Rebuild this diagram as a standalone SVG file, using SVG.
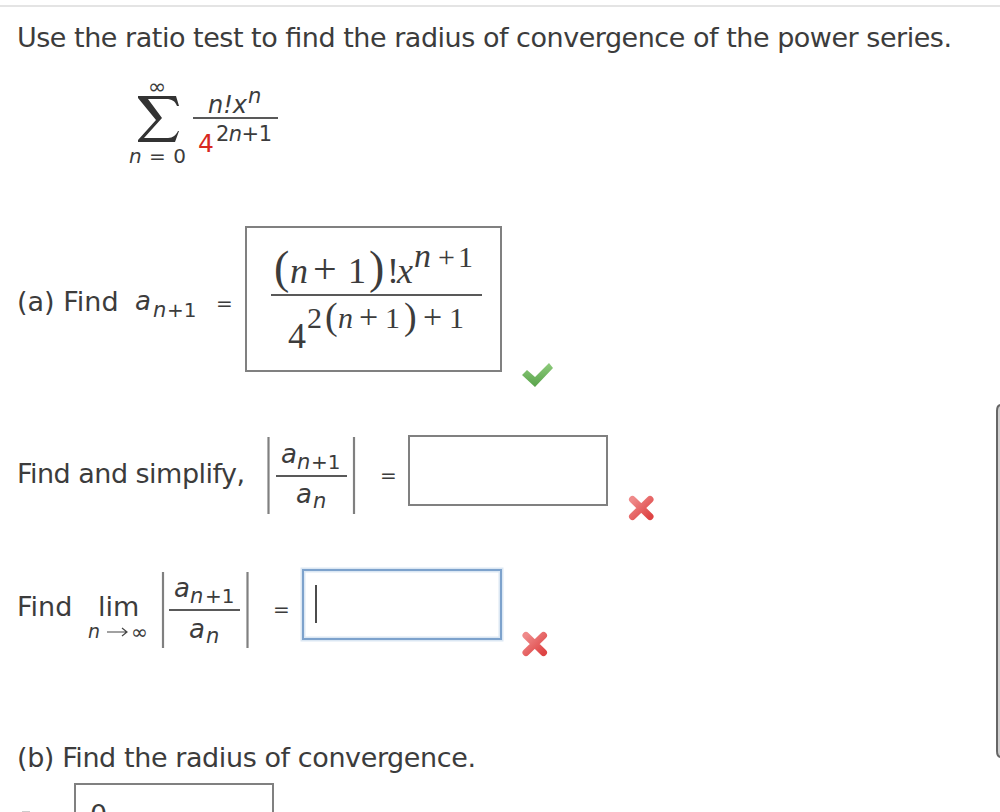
<svg xmlns="http://www.w3.org/2000/svg" width="1000" height="812" viewBox="0 0 1000 812">
<defs>
<linearGradient id="gx" x1="0" y1="0" x2="1" y2="1"><stop offset="0" stop-color="#ef8a8a"/><stop offset="1" stop-color="#de4444"/></linearGradient>
<linearGradient id="gc" x1="0" y1="0" x2="0" y2="1"><stop offset="0" stop-color="#8ecb7c"/><stop offset="1" stop-color="#58a34a"/></linearGradient>
</defs>
<style>
text{font-family:"DejaVu Sans",Verdana,sans-serif;fill:#3c3c3c}
.b{font-size:27px}
.m{font-size:26px;font-style:italic}
.s{font-size:20px}
.si{font-size:21px;font-style:italic}
.eq{font-size:20px}
.cm{font-family:"Liberation Serif","Times New Roman",serif;font-size:36px}
.cmi{font-family:"Liberation Serif","Times New Roman",serif;font-size:36px;font-style:italic}
.cs{font-family:"Liberation Serif","Times New Roman",serif;font-size:30px}
.csi{font-family:"Liberation Serif","Times New Roman",serif;font-size:30px;font-style:italic}
.box{fill:#fff;stroke:#808080;stroke-width:2}
.rule{stroke:#222;stroke-width:1.7;fill:none}
.bar{stroke:#808080;stroke-width:2.2;fill:none}
.x{stroke:url(#gx);stroke-width:7;stroke-linecap:round;fill:none}
</style>
<rect width="1000" height="812" fill="#fff"/>
<line x1="0" y1="6" x2="1000" y2="6" stroke="#e4e4e4" stroke-width="2"/>
<text id="prompt" x="17" y="47" class="b" textLength="935">Use the ratio test to find the radius of convergence of the power series.</text>
<g id="series">
<text x="148" y="94" style="font-size:22px">∞</text>
<path d="M138 96H176L179 106H177C175 101 172 99 166 99H148L162 118 144 138H168C173 138 176 135 178 131H179L175 142H138V140L156 120 138 98Z" fill="#333"/>
<text x="129" y="163" style="font-size:20px" textLength="57"><tspan font-style="italic">n</tspan> = 0</text>
<text x="208" y="113" style="font-size:24px;font-style:italic" textLength="39">n!x</text>
<text x="248" y="103" class="si">n</text>
<line x1="193" y1="118" x2="278" y2="118" class="rule"/>
<text x="198" y="152" style="font-size:25px;fill:#d8281f">4</text>
<text x="216" y="141" style="font-size:21px" textLength="56">2<tspan font-style="italic">n</tspan>+1</text>
</g>
<g id="part-a">
<text x="17" y="311" class="b">(a) Find</text>
<text x="135" y="310" class="m">a</text><text x="153" y="317" class="si">n</text><text x="167" y="317" class="s">+1</text>
<text x="216" y="310" class="eq">=</text>
<rect x="246" y="227" width="255" height="144" class="box"/>
<text x="274" y="283" class="cm" style="font-size:46px">(</text>
<text x="290" y="283" class="cmi">n</text>
<text x="313" y="283" class="cm" style="font-size:42px">+</text>
<text x="348" y="283" class="cm">1</text>
<text x="369" y="283" class="cm" style="font-size:46px">)</text>
<text x="387" y="283" class="cm">!</text>
<text x="397" y="283" class="cmi">x</text>
<text x="414" y="267" class="csi" style="font-size:34px">n</text>
<text x="438" y="267" class="cs">+</text>
<text x="458" y="267" class="cs">1</text>
<line x1="271" y1="295" x2="482" y2="295" class="rule"/>
<text x="288" y="348" class="cm">4</text>
<text x="307" y="328" class="cs">2</text>
<text x="325" y="329" class="cs" style="font-size:38px">(</text>
<text x="338" y="328" class="csi">n</text>
<text x="359" y="328" class="cs" style="font-size:34px">+</text>
<text x="385" y="328" class="cs">1</text>
<text x="404" y="329" class="cs" style="font-size:38px">)</text>
<text x="423" y="328" class="cs" style="font-size:34px">+</text>
<text x="449" y="328" class="cs">1</text>
<path d="M522 375L527 370 535 377 549 363 553 368 535 387Z" fill="url(#gc)"/>
</g>
<g id="part-simplify">
<text x="17" y="483" class="b" textLength="228">Find and simplify,</text>
<line x1="268.500" y1="437" x2="268.500" y2="514" class="bar"/>
<line x1="354" y1="437" x2="354" y2="514" class="bar"/>
<text x="281" y="463" class="m">a</text><text x="297" y="469" class="si">n</text><text x="311" y="469" class="s">+1</text>
<line x1="276" y1="476" x2="347" y2="476" class="rule"/>
<text x="296" y="503" class="m">a</text><text x="313" y="508" class="si">n</text>
<text x="380" y="482" class="eq">=</text>
<rect x="409" y="436" width="198" height="69" class="box"/>
<path id="cross-1" d="M632.500 499.500L650 516.500M650 499.500L632.500 516.500" class="x"/>
</g>
<g id="part-limit">
<text x="17" y="616" class="b">Find</text>
<text x="98" y="616" class="b">lim</text>
<text x="88" y="638" style="font-size:19px;font-style:italic">n</text>
<path d="M107 632H127M122 628L127 632 122 636" fill="none" stroke="#444" stroke-width="1.200"/>
<text x="131" y="639" style="font-size:20px">∞</text>
<line x1="163" y1="572" x2="163" y2="648" class="bar"/>
<line x1="247.500" y1="572" x2="247.500" y2="648" class="bar"/>
<text x="174" y="597" class="m">a</text><text x="190" y="603" class="si">n</text><text x="205" y="603" class="s">+1</text>
<line x1="169" y1="610" x2="240" y2="610" class="rule"/>
<text x="189" y="638" class="m">a</text><text x="206" y="643" class="si">n</text>
<text x="273" y="616" class="eq">=</text>
<rect x="303" y="570" width="198" height="69" fill="#fff" stroke="#dbe7f3" stroke-width="5"/>
<rect x="303" y="570" width="198" height="69" fill="none" stroke="#7da2cc" stroke-width="2"/>
<line x1="316" y1="585" x2="316" y2="623" stroke="#111" stroke-width="1.500"/>
<path id="cross-2" d="M526 635.500L543.500 652.500M543.500 635.500L526 652.500" class="x"/>
</g>
<g id="part-b">
<text x="17" y="767" class="b" textLength="459">(b) Find the radius of convergence.</text>
<rect x="75" y="784" width="198" height="40" class="box"/>
<text x="90" y="824" class="b">0</text>
<rect x="22" y="811" width="8" height="1" fill="#ccc"/>
</g>
<path id="panel-edge" d="M1001 405Q997 405 997 411V751Q997 757 1001 757Z" fill="#d0d0d0" stroke="#666" stroke-width="2"/>
</svg>
